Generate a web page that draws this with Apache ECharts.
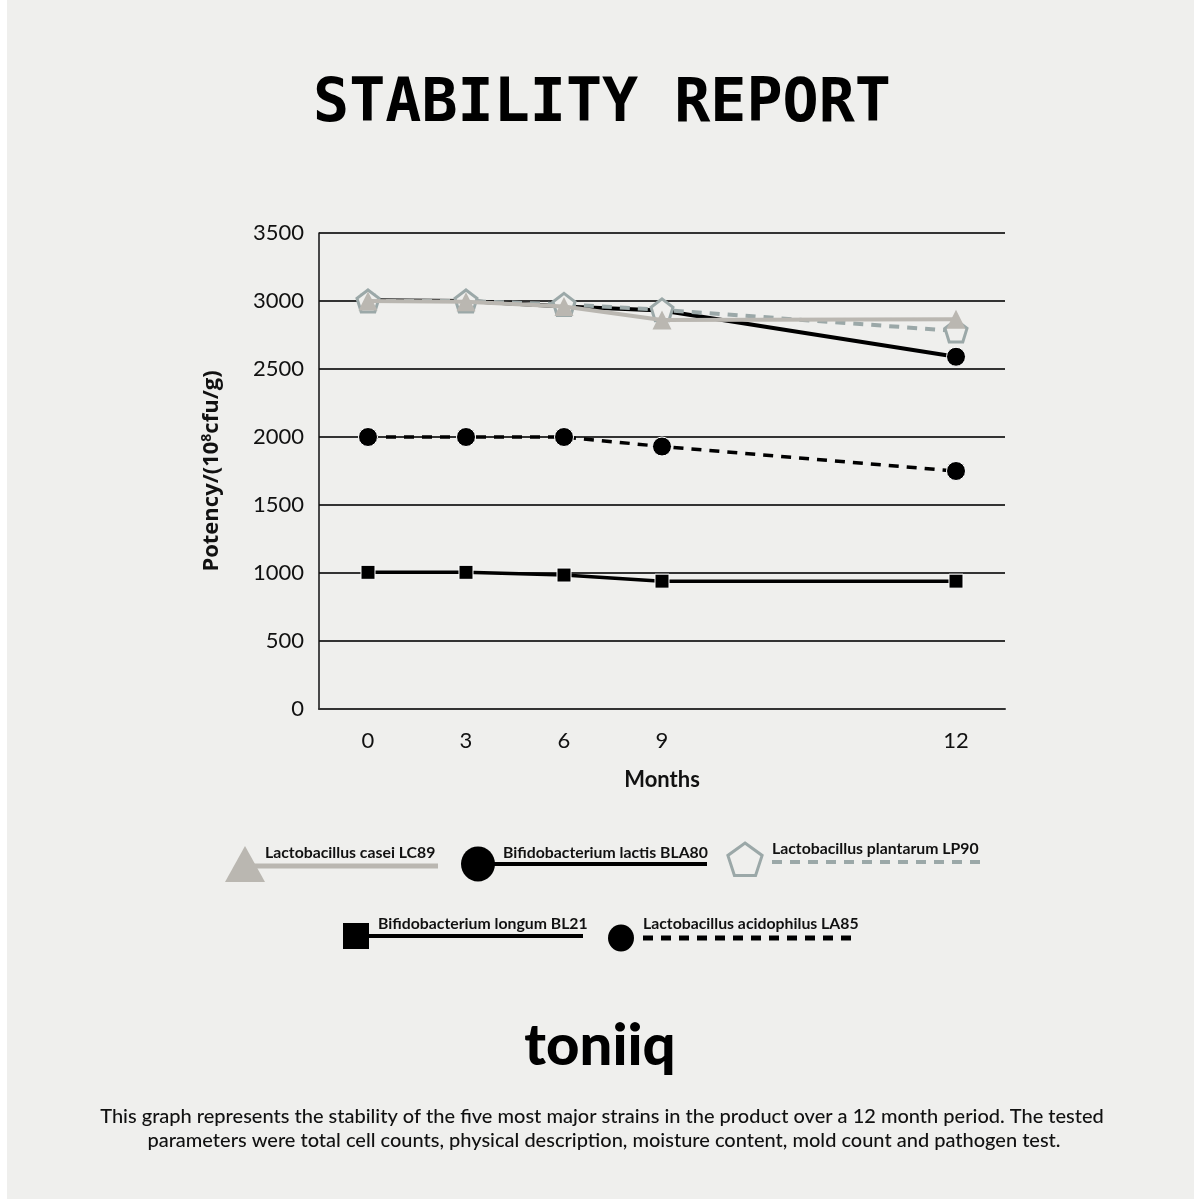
<!DOCTYPE html>
<html>
<head>
<meta charset="utf-8">
<script src="https://cdn.jsdelivr.net/npm/echarts@6/dist/echarts.min.js"></script>
<style>
html,body{margin:0;padding:0;background:#ffffff;}
#c{width:1200px;height:1200px;}
</style>
</head>
<body>
<div id="c"></div>
<script>
// ---- data ----
const months = ['0', '3', '6', '9', '', '', '12'];
const yTicks = [0, 500, 1000, 1500, 2000, 2500, 3000, 3500];
const seriesNames = [
  'Lactobacillus casei LC89',
  'Bifidobacterium lactis BLA80',
  'Lactobacillus plantarum LP90',
  'Bifidobacterium longum BL21',
  'Lactobacillus acidophilus LA85'
];
const caseiLC89 = [3000, 2995, 2960, 2860, null, null, 2865];
const lactisBLA80 = [3005, 3000, 2960, 2930, null, null, 2590];
const plantarumLP90 = [3000, 3000, 2975, 2935, null, null, 2780];
const longumBL21 = [1005, 1005, 985, 940, null, null, 940];
const acidophilusLA85 = [2000, 2000, 2000, 1930, null, null, 1750];

const title = 'STABILITY REPORT';
const xName = 'Months';
const footer = [
  'This graph represents the stability of the five most major strains in the product over a 12 month period. The tested',
  'parameters were total cell counts, physical description, moisture content, mold count and pathogen test.'
];
const logo = 'toniiq';

// ---- styles ----
const BG = '#efefed';
const GRAY = '#bab7b1';
const TEAL = '#9ba8a8';
const FONT = 'Lato, "Open Sans", sans-serif';
const pentagon = 'path://M0,-10 L9.51,-3.09 L5.88,8.09 L-5.88,8.09 L-9.51,-3.09 Z';

const chart = echarts.init(document.getElementById('c'), null, {renderer: 'canvas'});

function legendItem(i, sym, color, dash, lineW, x0, x1, ly, sx, sy, textX, textY) {
  const els = [];
  els.push({type: 'line', z: 10, shape: {x1: x0, y1: ly, x2: x1, y2: ly},
    style: {stroke: color, lineWidth: lineW, lineDash: dash}});
  if (sym === 'triangle') {
    els.push({type: 'polygon', z: 11, shape: {points: [[sx, sy - 18], [sx + 20, sy + 18], [sx - 20, sy + 18]]}, style: {fill: color}});
  } else if (sym === 'circle') {
    els.push({type: 'ellipse', z: 11, shape: {cx: sx, cy: sy, rx: sy > 900 ? 13 : 17, ry: sy > 900 ? 13.5 : 17.5}, style: {fill: color}});
  } else if (sym === 'pentagon') {
    const pts = [];
    for (let k = 0; k < 5; k++) {
      const a = -Math.PI / 2 + k * 2 * Math.PI / 5;
      pts.push([sx + 18 * Math.cos(a), sy + 18 * Math.sin(a)]);
    }
    els.push({type: 'polygon', z: 11, shape: {points: pts}, style: {fill: BG, stroke: color, lineWidth: 3}});
  } else if (sym === 'rect') {
    els.push({type: 'rect', z: 11, shape: {x: sx - 13, y: sy - 13, width: 26, height: 26}, style: {fill: color}});
  }
  els.push({type: 'text', z: 12, x: textX, y: textY,
    style: {text: seriesNames[i], fill: '#111', font: 'bold 15.8px ' + FONT, textVerticalAlign: 'middle'}});
  return els;
}

const graphics = [
  {type: 'rect', z: -10, shape: {x: 7, y: 0, width: 1187, height: 1199}, style: {fill: BG}},
  {type: 'text', x: 602, y: 105, style: {text: title, fill: '#000', font: 'bold 60px "DejaVu Sans Mono", monospace',
    textAlign: 'center', textVerticalAlign: 'middle'}},
  {type: 'text', x: 600, y: 1046, style: {text: logo, fill: '#000', font: '900 58px Lato, sans-serif',
    textAlign: 'center', textVerticalAlign: 'middle'}},
  {type: 'text', x: 602, y: 1117, style: {text: footer[0], fill: '#111', font: '500 20px ' + FONT,
    textAlign: 'center', textVerticalAlign: 'middle'}},
  {type: 'text', x: 604, y: 1141, style: {text: footer[1], fill: '#111', font: '500 20px ' + FONT,
    textAlign: 'center', textVerticalAlign: 'middle'}}
].concat(
  legendItem(0, 'triangle', GRAY, null, 5, 242, 438, 866, 245, 864, 265, 853),
  legendItem(1, 'circle', '#000', null, 4, 478, 707, 864, 478, 864, 503, 853),
  legendItem(2, 'pentagon', TEAL, [10, 8], 4, 772, 980, 862, 745, 861, 772, 849),
  legendItem(3, 'rect', '#000', null, 4, 356, 583, 936, 356, 936, 378, 924),
  legendItem(4, 'circle', '#000', [10, 8], 5, 643, 854, 938, 621, 938, 643, 924)
);

const option = {
  backgroundColor: 'transparent',
  animation: false,
  grid: {left: 319, right: 195, top: 233, bottom: 491, containLabel: false},
  xAxis: {
    type: 'category', data: months, boundaryGap: true,
    name: xName, nameLocation: 'middle', nameGap: 60,
    nameTextStyle: {fontFamily: FONT, fontWeight: 'bold', fontSize: 22, color: '#111'},
    axisLine: {lineStyle: {color: '#333', width: 2}},
    axisTick: {show: false},
    axisLabel: {fontFamily: FONT, fontSize: 22, color: '#111', margin: 21, interval: 0}
  },
  yAxis: {
    type: 'value', min: yTicks[0], max: yTicks[yTicks.length - 1], interval: 500,
    name: 'Potency/(10{sup|8}cfu/g)', nameLocation: 'middle', nameGap: 96, nameRotate: 90,
    nameTextStyle: {fontFamily: '"Open Sans", sans-serif', fontWeight: 'bold', fontSize: 22, color: '#111',
      rich: {sup: {fontFamily: '"Open Sans", sans-serif', fontWeight: 'bold', fontSize: 14, verticalAlign: 'top', padding: [0, 0, 9, 0]}}},
    axisLine: {show: true, lineStyle: {color: '#111', width: 1.5}},
    axisTick: {show: false},
    splitLine: {lineStyle: {color: '#333', width: 2}},
    axisLabel: {fontFamily: FONT, fontSize: 22, color: '#111', margin: 15, formatter: v => String(v)}
  },
  series: [
    {name: seriesNames[3], type: 'line', data: longumBL21, connectNulls: true, z: 2,
      symbol: 'rect', symbolSize: 14,
      lineStyle: {color: '#000', width: 3.5},
      itemStyle: {color: '#000', borderColor: '#fff', borderWidth: 1}},
    {name: seriesNames[4], type: 'line', data: acidophilusLA85, connectNulls: true, z: 2,
      symbol: 'circle', symbolSize: 19,
      lineStyle: {color: '#000', width: 3.5, type: [10, 8]},
      itemStyle: {color: '#000', borderColor: '#fff', borderWidth: 1}},
    {name: seriesNames[1], type: 'line', data: lactisBLA80, connectNulls: true, z: 3,
      symbol: 'circle', symbolSize: 19,
      lineStyle: {color: '#000', width: 4},
      itemStyle: {color: '#000', borderColor: '#fff', borderWidth: 1}},
    {name: seriesNames[2], type: 'line', data: plantarumLP90, connectNulls: true, z: 4,
      symbol: pentagon, symbolSize: 22,
      lineStyle: {color: TEAL, width: 4, type: [10, 8]},
      itemStyle: {color: BG, borderColor: TEAL, borderWidth: 3}},
    {name: seriesNames[0], type: 'line', data: caseiLC89, connectNulls: true, z: 5,
      symbol: 'triangle', symbolSize: 19,
      lineStyle: {color: GRAY, width: 4},
      itemStyle: {color: GRAY}}
  ],
  graphic: graphics
};
chart.setOption(option);
</script>
</body>
</html>
